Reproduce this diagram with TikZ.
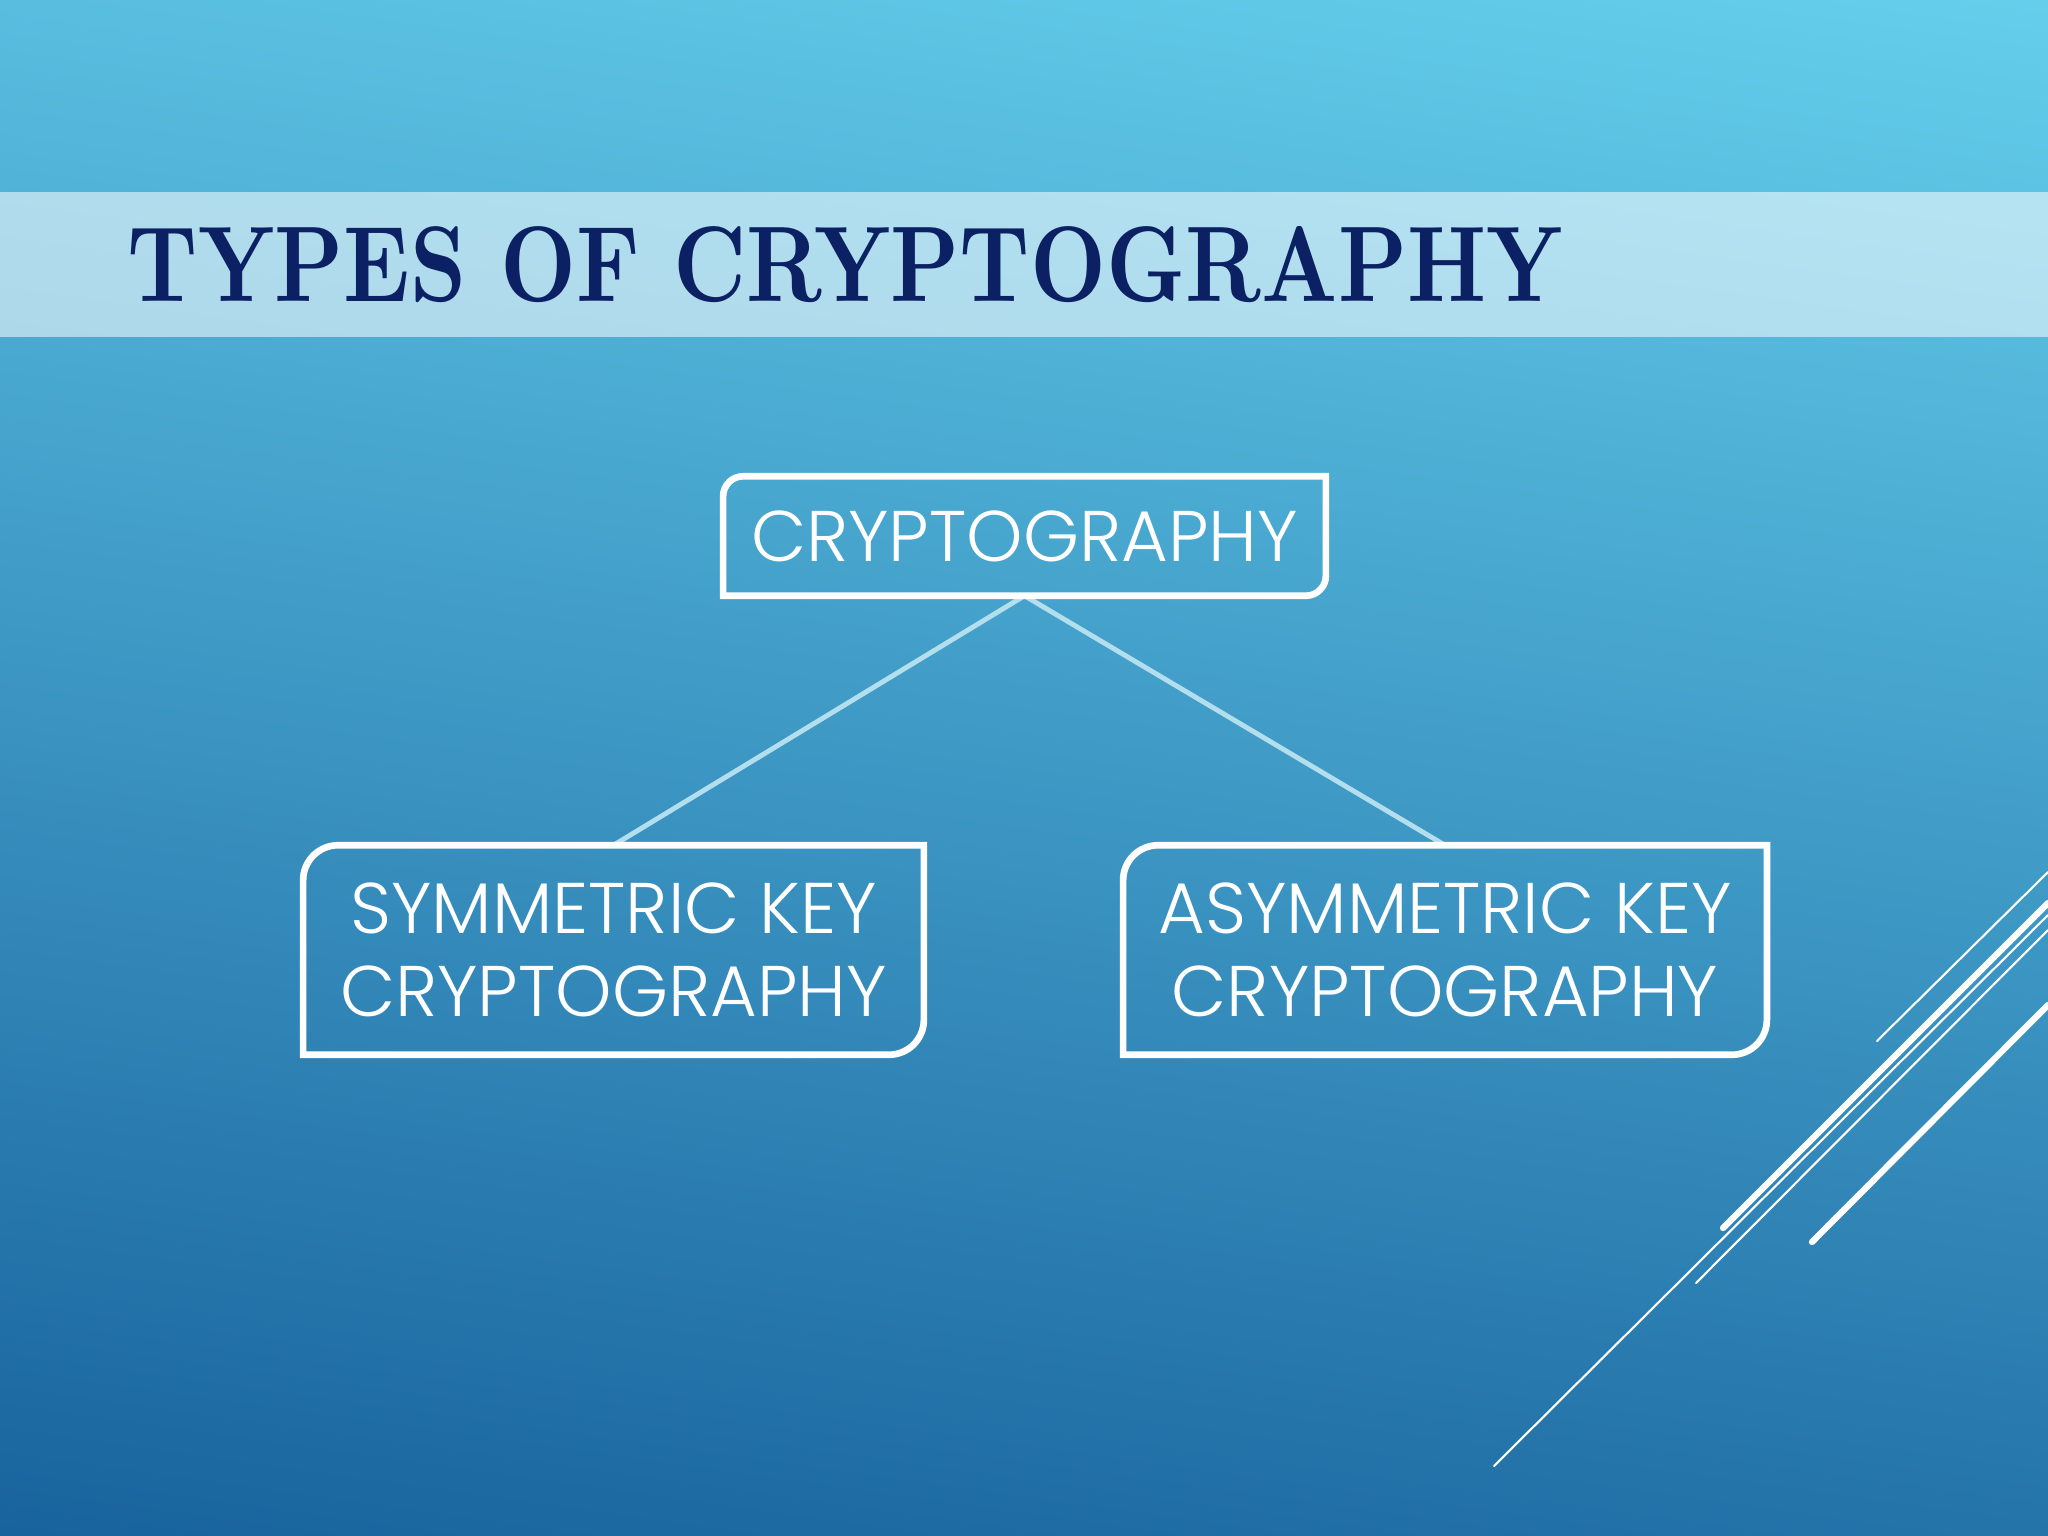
\documentclass[tikz,border=0pt]{standalone}
\usepackage{fontspec}
\usepackage{graphicx}
\IfFontExistsTF{Poppins Light}{\newfontfamily\boxfont{Poppins Light}}{\newfontfamily\boxfont{Poppins}}
\definecolor{bgtop}{HTML}{68D4F0}
\definecolor{bgmid}{HTML}{3DA2CE}
\definecolor{bgbot}{HTML}{145D99}
\definecolor{titlenavy}{HTML}{0B2163}
\definecolor{linkblue}{HTML}{B2DEEE}

\begin{document}
\begin{tikzpicture}[x=0.01cm,y=-0.01cm]
\tikzset{boxnode/.style ={inner sep=0, text=white, align=center, font=\boxfont\fontsize{20.4}{23.6}\selectfont}}
\tikzset{boxline/.style ={draw=white, line width=1.9pt}}
\tikzset{link/.style ={draw=linkblue, line width=1.4pt}}
\tikzset{ray/.style ={draw=white, line cap=round}}
\useasboundingbox (0,0) rectangle (2048,1536);
% background and title band
\shade[top color=bgtop, middle color=bgmid, bottom color=bgbot, shading angle=-8] (-200,-200) rectangle (2248,1736);
\fill[white, fill opacity=0.55] (0,192) rectangle (2048,337);
\node[anchor=south west, inner sep=0, text=titlenavy] (title) at (127,303) {\resizebox{14.34cm}{0.75cm}{\bfseries TYPES OF CRYPTOGRAPHY}};
% the three boxes
\node[boxnode, minimum width=6.01cm, minimum height=1.18cm] (crypto) at (1024.5,536) {CRYPTOGRAPHY};
\node[boxnode, minimum width=6.19cm, minimum height=2.08cm] (symkey) at (613.5,950) {SYMMETRIC KEY\\CRYPTOGRAPHY};
\node[boxnode, minimum width=6.42cm, minimum height=2.08cm] (asymkey) at (1445,950) {ASYMMETRIC KEY\\CRYPTOGRAPHY};
\draw[link] (crypto.south) -- (symkey.north);
\draw[link] (crypto.south) -- (asymkey.north);
\draw[boxline] (crypto.north) -- (crypto.north east) [rounded corners=0.2cm] -- (crypto.south east) [sharp corners] -- (crypto.south west) [rounded corners=0.2cm] -- (crypto.north west) [sharp corners] -- cycle;
\draw[boxline] (symkey.north) -- (symkey.north east) [rounded corners=0.35cm] -- (symkey.south east) [sharp corners] -- (symkey.south west) [rounded corners=0.35cm] -- (symkey.north west) [sharp corners] -- cycle;
\draw[boxline] (asymkey.north) -- (asymkey.north east) [rounded corners=0.35cm] -- (asymkey.south east) [sharp corners] -- (asymkey.south west) [rounded corners=0.35cm] -- (asymkey.north west) [sharp corners] -- cycle;
% corner rays
\draw[ray, line width=0.6pt] (1877,1041) -- (2048,872);
\draw[ray, line width=1.8pt] (1723,1228) -- (2048,903);
\draw[ray, line width=0.6pt] (1494,1466) -- (2048,915);
\draw[ray, line width=0.6pt] (1696,1283) -- (2048,930);
\draw[ray, line width=1.8pt] (1812,1242) -- (2048,1005);
\end{tikzpicture}
\end{document}
